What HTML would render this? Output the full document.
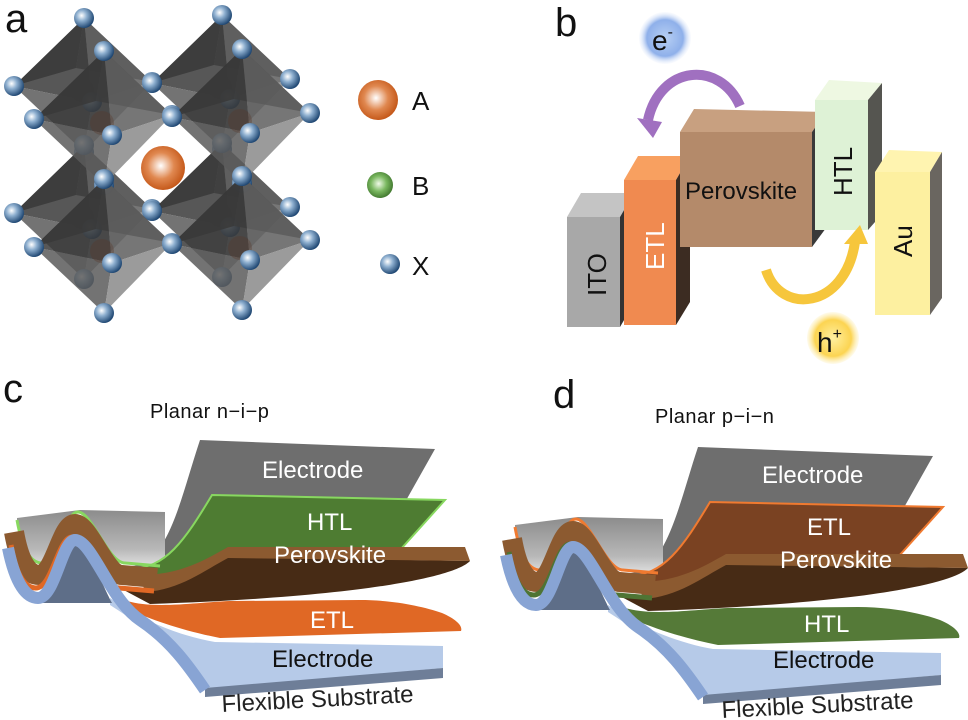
<!DOCTYPE html>
<html><head><meta charset="utf-8"><style>
html,body{margin:0;padding:0;background:#fff;}
svg{display:block;font-family:"Liberation Sans",sans-serif;}
</style></head><body>
<svg width="968" height="720" viewBox="0 0 968 720" xmlns="http://www.w3.org/2000/svg">
<defs>
<radialGradient id="sph" cx="0.38" cy="0.38" r="0.65"><stop offset="0" stop-color="#ffffff"/><stop offset="0.4" stop-color="#8fb0d0"/><stop offset="1" stop-color="#1c4470"/></radialGradient>
<radialGradient id="sA" cx="0.45" cy="0.45" r="0.6"><stop offset="0" stop-color="#ffffff"/><stop offset="0.5" stop-color="#e08850"/><stop offset="1" stop-color="#c05010"/></radialGradient>
<radialGradient id="sB" cx="0.45" cy="0.45" r="0.6"><stop offset="0" stop-color="#f0fae8"/><stop offset="0.5" stop-color="#7ab860"/><stop offset="1" stop-color="#3a7028"/></radialGradient>
<radialGradient id="eC" cx="0.5" cy="0.5" r="0.5"><stop offset="0" stop-color="#b8d0f4"/><stop offset="0.7" stop-color="#8fb0ea"/><stop offset="1" stop-color="#e4ecfb" stop-opacity="0.2"/></radialGradient>
<radialGradient id="hC" cx="0.5" cy="0.5" r="0.5"><stop offset="0" stop-color="#fff0a0"/><stop offset="0.7" stop-color="#fcd452"/><stop offset="1" stop-color="#fdeaa0" stop-opacity="0.2"/></radialGradient>
<linearGradient id="gv" x1="0" y1="0" x2="0" y2="1"><stop offset="0" stop-color="#8c8c8c"/><stop offset="0.7" stop-color="#b8b8b8"/><stop offset="1" stop-color="#e0e0e0"/></linearGradient>
<g id="oct">
<polygon points="0,-67 -70,1 -8,-17" fill="#333" fill-opacity="0.85"/>
<polygon points="0,-67 -8,-17 68,-3" fill="#484848" fill-opacity="0.85"/>
<polygon points="0,-67 -70,1 8,17" fill="#3a3a3a" fill-opacity="0.85"/>
<polygon points="0,-67 8,17 68,-3" fill="#5e5e5e" fill-opacity="0.85"/>
<polygon points="0,67 -70,1 8,17" fill="#5a5a5a" fill-opacity="0.85"/>
<polygon points="0,67 8,17 68,-3" fill="#8a8a8a" fill-opacity="0.85"/>
<circle cx="-2" cy="5" r="12" fill="#5a3a2a" opacity="0.35"/>
<circle cx="0" cy="-67" r="10" fill="url(#sph)"/>
<circle cx="0" cy="67" r="10" fill="url(#sph)"/>
<circle cx="-70" cy="1" r="10" fill="url(#sph)"/>
<circle cx="68" cy="-3" r="10" fill="url(#sph)"/>
<circle cx="8" cy="17" r="10" fill="url(#sph)"/>
</g>
<path id="G" d="M17,520 C22,548 30,563 42,563 C58,563 64,512 78,512 C92,512 108,563 125,563 L160,566" fill="none"/>
<path id="Gfill" d="M17,518 L80,510 L165,512 L165,566 L125,563 C108,563 92,512 78,512 C64,512 58,563 42,563 C30,563 22,548 17,520 Z"/>
<path id="B" d="M8,548 C14,578 24,598 38,598 C55,598 62,540 75,540 C92,540 110,600 140,620 C170,640 188,665 205,690" fill="none"/>
<path id="slate" d="M36,603 C55,603 62,546 75,546 C88,546 100,580 112,603 Z"/>
</defs>

<text x="5" y="32" font-size="40" fill="#111">a</text>
<text x="555" y="36" font-size="40" fill="#111">b</text>
<text x="3" y="402" font-size="40" fill="#111">c</text>
<text x="553" y="408" font-size="40" fill="#111">d</text>

<use href="#oct" x="84" y="85"/>
<use href="#oct" x="222" y="82"/>
<use href="#oct" x="84" y="212"/>
<use href="#oct" x="222" y="210"/>
<use href="#oct" x="104" y="118"/>
<use href="#oct" x="242" y="116"/>
<use href="#oct" x="104" y="246"/>
<use href="#oct" x="242" y="243"/>
<circle cx="163" cy="168" r="22" fill="url(#sA)"/>
<circle cx="378" cy="100" r="20" fill="url(#sA)"/>
<circle cx="380" cy="185" r="13" fill="url(#sB)"/>
<circle cx="390" cy="264" r="10" fill="url(#sph)"/>
<text x="412" y="110" font-size="26" fill="#111">A</text>
<text x="412" y="195" font-size="26" fill="#111">B</text>
<text x="412" y="275" font-size="26" fill="#111">X</text>

<polygon points="567,217 581,193 634,193 620,217" fill="#c4c4c4"/>
<polygon points="620,217 634,193 634,303 620,327" fill="#333"/>
<rect x="567" y="217" width="53" height="110" fill="#a8a8a8"/>
<text transform="translate(606,296) rotate(-90)" font-size="26" fill="#111">ITO</text>
<polygon points="624,180 638,156 690,156 676,180" fill="#f8a060"/>
<polygon points="676,180 690,156 690,302 676,325" fill="#3c2c22"/>
<rect x="624" y="180" width="52" height="145" fill="#f08a50"/>
<text transform="translate(664,270) rotate(-90)" font-size="26" fill="#fff">ETL</text>
<polygon points="680,132 694,109 826,112 812,132" fill="#c8a080"/>
<polygon points="812,132 826,112 826,228 812,247" fill="#3a3a3a"/>
<rect x="680" y="132" width="132" height="115" fill="#b48a6a"/>
<text x="685" y="199" font-size="24" fill="#111">Perovskite</text>
<polygon points="815,100 829,80 882,83 868,100" fill="#eef8e2"/>
<polygon points="868,100 882,83 882,214 868,230" fill="#555550"/>
<rect x="815" y="100" width="53" height="130" fill="#def2d6"/>
<text transform="translate(852,196) rotate(-90)" font-size="26" fill="#111">HTL</text>
<polygon points="875,172 889,150 942,152 930,172" fill="#fff4b0"/>
<polygon points="930,172 942,152 942,298 930,315" fill="#6a6660"/>
<rect x="875" y="172" width="55" height="143" fill="#fdf0a0"/>
<text transform="translate(912,257) rotate(-90)" font-size="26" fill="#111">Au</text>
<path d="M740,106 C720,60 660,65 648,120" fill="none" stroke="#a070c0" stroke-width="10"/>
<polygon points="637,118 662,122 653,138" fill="#a070c0"/>
<path d="M766,270 C780,315 845,310 855,242" fill="none" stroke="#f6c63c" stroke-width="10"/>
<polygon points="844,244 868,244 860,225" fill="#f6c63c"/>
<circle cx="665" cy="38" r="26" fill="url(#eC)"/>
<text x="652" y="50" font-size="28" fill="#111">e<tspan font-size="16" dy="-13">-</tspan></text>
<circle cx="833" cy="338" r="26" fill="url(#hC)"/>
<text x="817" y="352" font-size="28" fill="#111">h<tspan font-size="16" dy="-13">+</tspan></text>

<text x="150" y="418" font-size="20" fill="#111" letter-spacing="0.5">Planar n−i−p</text>
<g>
<path d="M130,566 C168,566 180,500 200,440 L435,449 L395,520 L175,578 Z" fill="#6e6e6e"/>
<use href="#Gfill" fill="url(#gv)"/>
<path d="M130,568 C165,570 185,540 212,495 L445,500 L400,550 L230,556 L160,585 Z" fill="#4e7c32" stroke="#88d860" stroke-width="2"/>
<use href="#G" stroke="#88d860" stroke-width="3"/>
<path d="M120,588 C165,592 205,570 228,557 L470,561 C455,577 360,597 150,604 Z" fill="#472b15"/>
<polygon points="228,547 465,547 470,561 228,558" fill="#8c5a30"/>
<path d="M140,575 C180,575 205,560 228,547 L228,558 C205,570 180,590 145,592 Z" fill="#8c5a30"/>
<use href="#G" transform="translate(-3,12)" stroke="#8c5a30" stroke-width="20"/>
<path d="M125,600 C150,610 200,602 230,601 L360,600 C392,600 422,606 442,613 C456,619 463,626 461,631 L220,638 C180,630 145,618 118,604 Z" fill="#e06825"/>
<use href="#G" transform="translate(-6,25)" stroke="#e06825" stroke-width="5"/>
<path d="M110,598 C140,620 180,636 215,642 L443,646 L443,668 L205,690 C185,660 150,630 110,605 Z" fill="#b6cae8"/>
<polygon points="205,688 443,668 443,678 205,697" fill="#6e7e98"/>
<use href="#slate" fill="#5e6e88"/>
<use href="#B" stroke="#88a4d4" stroke-width="12"/>
</g>
<text x="262" y="478" font-size="24" fill="#fff">Electrode</text>
<text x="307" y="530" font-size="24" fill="#fff">HTL</text>
<text x="274" y="563" font-size="24" fill="#fff">Perovskite</text>
<text x="310" y="628" font-size="24" fill="#fff">ETL</text>
<text x="272" y="667" font-size="24" fill="#111">Electrode</text>
<text transform="translate(222,712) rotate(-3)" font-size="24" fill="#222">Flexible Substrate</text>

<text x="655" y="423" font-size="20" fill="#111" letter-spacing="0.5">Planar p−i−n</text>
<g transform="translate(498,7)">
<path d="M130,566 C168,566 180,500 200,440 L435,449 L395,520 L175,578 Z" fill="#6e6e6e"/>
<use href="#Gfill" fill="url(#gv)"/>
<path d="M130,568 C165,570 185,540 212,495 L445,500 L400,550 L230,556 L160,585 Z" fill="#7a4222" stroke="#f07a30" stroke-width="2"/>
<use href="#G" stroke="#f07a30" stroke-width="3"/>
<path d="M120,588 C165,592 205,570 228,557 L470,561 C455,577 360,597 150,604 Z" fill="#472b15"/>
<polygon points="228,547 465,547 470,561 228,558" fill="#8c5a30"/>
<path d="M140,575 C180,575 205,560 228,547 L228,558 C205,570 180,590 145,592 Z" fill="#8c5a30"/>
<use href="#G" transform="translate(-3,12)" stroke="#8c5a30" stroke-width="20"/>
<path d="M125,600 C150,610 200,602 230,601 L360,600 C392,600 422,606 442,613 C456,619 463,626 461,631 L220,638 C180,630 145,618 118,604 Z" fill="#557a38"/>
<use href="#G" transform="translate(-6,25)" stroke="#4e7434" stroke-width="5"/>
<path d="M110,598 C140,620 180,636 215,642 L443,646 L443,668 L205,690 C185,660 150,630 110,605 Z" fill="#b6cae8"/>
<polygon points="205,688 443,668 443,678 205,697" fill="#6e7e98"/>
<use href="#slate" fill="#5e6e88"/>
<use href="#B" stroke="#88a4d4" stroke-width="12"/>
</g>
<text x="762" y="483" font-size="24" fill="#fff">Electrode</text>
<text x="807" y="535" font-size="24" fill="#fff">ETL</text>
<text x="780" y="568" font-size="24" fill="#fff">Perovskite</text>
<text x="804" y="632" font-size="24" fill="#fff">HTL</text>
<text x="773" y="668" font-size="24" fill="#111">Electrode</text>
<text transform="translate(722,718) rotate(-3)" font-size="24" fill="#222">Flexible Substrate</text>
</svg>
</body></html>
